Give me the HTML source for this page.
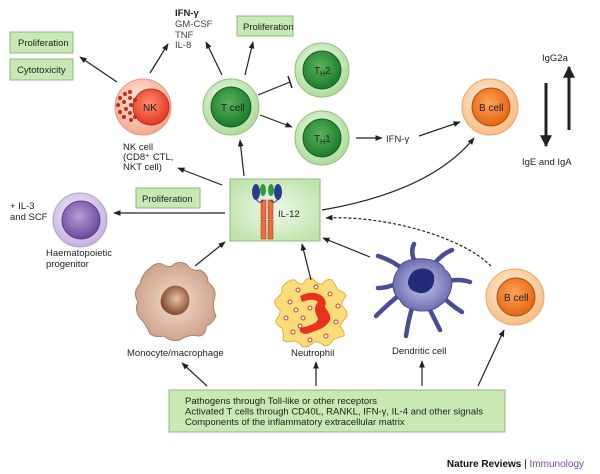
<!DOCTYPE html>
<html><head><meta charset="utf-8"><style>
body{margin:0;background:#fff}
svg{display:block;font-family:"Liberation Sans",sans-serif}
</style></head><body>
<svg width="600" height="474" viewBox="0 0 600 474" xmlns="http://www.w3.org/2000/svg">
<defs>
<marker id="a" viewBox="0 0 10 10" refX="9" refY="5" markerWidth="6" markerHeight="6" orient="auto"><path d="M0,1 L10,5 L0,9 z" fill="#222"/></marker>
<marker id="b" viewBox="0 0 10 10" refX="9" refY="5" markerWidth="4" markerHeight="4" orient="auto"><path d="M0,0 L10,5 L0,10 z" fill="#222"/></marker>
<radialGradient id="gl" cx="0.45" cy="0.4" r="0.6"><stop offset="0" stop-color="#f4fbef"/><stop offset="1" stop-color="#aedb9a"/></radialGradient>
<radialGradient id="gd" cx="0.45" cy="0.4" r="0.6"><stop offset="0" stop-color="#5cb45a"/><stop offset="1" stop-color="#1a7a2c"/></radialGradient>
<radialGradient id="rl" cx="0.45" cy="0.4" r="0.6"><stop offset="0" stop-color="#fff0ea"/><stop offset="1" stop-color="#f5a68e"/></radialGradient>
<radialGradient id="rd" cx="0.45" cy="0.4" r="0.6"><stop offset="0" stop-color="#ff8a70"/><stop offset="1" stop-color="#e23a20"/></radialGradient>
<radialGradient id="ol" cx="0.45" cy="0.4" r="0.6"><stop offset="0" stop-color="#fff3e4"/><stop offset="1" stop-color="#f7bd82"/></radialGradient>
<radialGradient id="od" cx="0.45" cy="0.4" r="0.6"><stop offset="0" stop-color="#ffa45a"/><stop offset="1" stop-color="#e4650f"/></radialGradient>
<radialGradient id="pl" cx="0.45" cy="0.4" r="0.6"><stop offset="0" stop-color="#f6f0fb"/><stop offset="1" stop-color="#c6b1dc"/></radialGradient>
<radialGradient id="pd" cx="0.45" cy="0.4" r="0.6"><stop offset="0" stop-color="#b89ad6"/><stop offset="1" stop-color="#6c4a9c"/></radialGradient>
<radialGradient id="box" cx="0.5" cy="0.5" r="0.6"><stop offset="0" stop-color="#f0f9ea"/><stop offset="1" stop-color="#bfe3ac"/></radialGradient>
<radialGradient id="mo" cx="0.5" cy="0.5" r="0.6"><stop offset="0" stop-color="#f3ddd0"/><stop offset="1" stop-color="#c99a80"/></radialGradient>
<radialGradient id="mn" cx="0.55" cy="0.45" r="0.6"><stop offset="0" stop-color="#e8c2a8"/><stop offset="1" stop-color="#7a3e20"/></radialGradient>
<radialGradient id="dc" cx="0.5" cy="0.5" r="0.6"><stop offset="0" stop-color="#c7c8e8"/><stop offset="1" stop-color="#5c5ea6"/></radialGradient>
</defs>
<g font-size="9.5" fill="#222">
<g fill="#c8e8b4" stroke="#8fb87e" stroke-width="1">
<rect x="10" y="32" width="63" height="21"/><rect x="10" y="59" width="63" height="21"/>
<rect x="237" y="16" width="56" height="20"/><rect x="136" y="188" width="64" height="20"/>
</g>
<text x="18" y="46">Proliferation</text><text x="17" y="73">Cytotoxicity</text>
<text x="243" y="30">Proliferation</text><text x="142" y="202">Proliferation</text>
<rect x="230" y="179" width="90" height="62" fill="url(#box)" stroke="#8fb87e"/>
<rect x="169" y="390" width="336" height="42" fill="#c8e8b4" stroke="#8fb87e"/>
<text x="185" y="404">Pathogens through Toll-like or other receptors</text>
<text x="185" y="414.5">Activated T cells through CD40L, RANKL, IFN-γ, IL-4 and other signals</text>
<text x="185" y="425">Components of the inflammatory extracellular matrix</text>
<g stroke="#8a3a1a" stroke-width="0.5" fill="#f26a3c">
<rect x="261" y="200" width="5" height="19"/><rect x="261" y="220" width="5" height="19"/>
<rect x="268" y="200" width="5" height="19"/><rect x="268" y="220" width="5" height="19"/>
</g>
<path d="M256,199 Q260,205 263,200 M278,199 Q274,205 271,200" stroke="#2a3a8c" fill="none"/>
<ellipse cx="256" cy="192" rx="4" ry="8" fill="#2a3a8c"/><ellipse cx="278" cy="192" rx="4" ry="8" fill="#2a3a8c"/>
<ellipse cx="263" cy="190" rx="3" ry="6" fill="#2e9a44"/><ellipse cx="271" cy="190" rx="3" ry="6" fill="#2e9a44"/>
<text x="278" y="217">IL-12</text>
<circle cx="143" cy="107" r="28" fill="url(#rl)" stroke="#e59a86"/>
<circle cx="151" cy="107" r="18" fill="url(#rd)" stroke="#b8301a"/>
<g fill="#cc2a14"><circle cx="120" cy="98" r="2"/><circle cx="125" cy="94" r="2"/><circle cx="118" cy="105" r="2"/><circle cx="124" cy="102" r="2"/><circle cx="130" cy="98" r="2"/><circle cx="120" cy="112" r="2"/><circle cx="126" cy="109" r="2"/><circle cx="131" cy="105" r="2"/><circle cx="124" cy="117" r="2"/><circle cx="130" cy="113" r="2"/><circle cx="130" cy="92" r="2"/><circle cx="131" cy="120" r="2"/><circle cx="135" cy="117" r="2"/><circle cx="135" cy="100" r="2"/></g>
<text x="143" y="111" font-size="10">NK</text>
<text x="123" y="150">NK cell</text><text x="123" y="160">(CD8⁺ CTL,</text><text x="123" y="170">NKT cell)</text>
<circle cx="231" cy="107" r="28" fill="url(#gl)" stroke="#8fc27c"/>
<circle cx="231" cy="107" r="20" fill="url(#gd)" stroke="#136022"/>
<text x="221" y="111" font-size="10">T cell</text>
<circle cx="322" cy="70" r="27" fill="url(#gl)" stroke="#8fc27c"/>
<circle cx="322" cy="70" r="19" fill="url(#gd)" stroke="#136022"/>
<text x="314" y="74" font-size="10">T<tspan font-size="7" dy="2">H</tspan><tspan dy="-2">2</tspan></text>
<circle cx="322" cy="138" r="27" fill="url(#gl)" stroke="#8fc27c"/>
<circle cx="322" cy="138" r="19" fill="url(#gd)" stroke="#136022"/>
<text x="314" y="142" font-size="10">T<tspan font-size="7" dy="2">H</tspan><tspan dy="-2">1</tspan></text>
<circle cx="490" cy="107" r="28" fill="url(#ol)" stroke="#e8a870"/>
<circle cx="491" cy="107" r="19" fill="url(#od)" stroke="#b04c0c"/>
<text x="479" y="111" font-size="10">B cell</text>
<ellipse cx="515" cy="297" rx="29" ry="28" fill="url(#ol)" stroke="#e8a870"/>
<circle cx="516" cy="297" r="19" fill="url(#od)" stroke="#b04c0c"/>
<text x="504" y="301" font-size="10">B cell</text>
<circle cx="80" cy="220" r="27" fill="url(#pl)" stroke="#b6a2cc"/>
<circle cx="81" cy="220" r="19" fill="url(#pd)" stroke="#5a3a88"/>
<text x="10" y="209">+ IL-3</text><text x="10" y="220">and SCF</text>
<text x="46" y="256">Haematopoietic</text><text x="46" y="267">progenitor</text>
<path d="M150,268 Q156,262 162,264 Q168,268 172,266 Q178,260 186,264 Q192,272 200,270 Q208,274 208,282 Q218,290 214,300 Q212,308 216,316 Q212,324 206,326 Q206,336 198,336 Q188,334 180,340 Q170,342 164,336 Q156,338 150,334 Q146,324 140,318 Q134,310 138,302 Q132,292 140,284 Q142,274 150,268Z" fill="url(#mo)" stroke="#b08068"/>
<path d="M164,292 C170,282 186,284 189,296 C192,310 180,318 170,314 C160,310 158,300 164,292Z" fill="url(#mn)"/>
<text x="127" y="356">Monocyte/macrophage</text>
<path d="M285,284 Q290,279 295,280 Q299,285 303,284 Q307,277 312,278 Q318,285 322,284 Q327,278 332,280 Q336,286 338,290 Q345,292 346,296 Q341,302 342,306 Q348,311 347,316 Q342,322 340,326 Q345,332 344,336 Q338,337 333,340 Q330,346 325,346 Q319,341 314,342 Q308,348 303,347 Q298,341 293,341 Q286,343 283,340 Q284,332 282,328 Q275,324 276,320 Q281,314 280,310 Q273,304 275,300 Q280,296 282,292 Q281,287 285,284 Z" fill="#fbdc7a" stroke="#e0b040"/>
<path d="M300,296 C310,290 325,292 326,304 C322,308 332,312 330,320 C326,328 318,330 312,332 C305,336 298,333 300,328 C308,326 318,324 318,318 C314,312 314,306 318,302 C314,298 306,300 302,302 Z" fill="#e8321e"/>
<g fill="#fff" stroke="#d83a1e" stroke-width="1"><circle cx="290" cy="302" r="2"/><circle cx="298" cy="290" r="2"/><circle cx="316" cy="287" r="2"/><circle cx="330" cy="294" r="2"/><circle cx="338" cy="306" r="2"/><circle cx="336" cy="322" r="2"/><circle cx="326" cy="336" r="2"/><circle cx="310" cy="340" r="2"/><circle cx="293" cy="332" r="2"/><circle cx="286" cy="318" r="2"/><circle cx="303" cy="318" r="2"/><circle cx="310" cy="308" r="2"/><circle cx="296" cy="310" r="2"/><circle cx="300" cy="326" r="2"/></g>
<text x="291" y="356">Neutrophil</text>
<g stroke="#4a4c98" stroke-linecap="round" fill="none">
<g stroke-width="4.5">
<path d="M404,270 Q392,260 378,256"/><path d="M415,262 Q410,252 414,244"/>
<path d="M434,264 Q442,254 452,250"/><path d="M444,282 Q458,278 470,282"/>
<path d="M442,296 Q452,306 462,312"/><path d="M428,306 Q434,318 440,330"/>
<path d="M412,308 Q408,322 406,336"/><path d="M398,296 Q386,306 376,316"/>
<path d="M396,284 Q386,288 378,288"/>
</g>
<path d="M398,270 C400,255 440,255 445,270 C458,278 450,300 440,305 C430,315 405,312 400,300 C390,292 392,278 398,270Z" fill="url(#dc)" stroke-width="1"/>
</g>
<path d="M410,276 C414,266 432,266 434,276 C436,290 424,296 416,292 C408,290 406,282 410,276Z" fill="#232a78"/>
<text x="392" y="354">Dendritic cell</text>
<text x="175" y="16" font-weight="bold">IFN-γ</text>
<text x="175" y="27" fill="#444">GM-CSF</text><text x="175" y="38" fill="#444">TNF</text><text x="175" y="48" fill="#444">IL-8</text>
<text x="386" y="142">IFN-γ</text>
<text x="542" y="61">IgG2a</text>
<text x="522" y="165">IgE and IgA</text>
</g>
<g stroke="#222" stroke-width="1.2" fill="none" marker-end="url(#a)">
<line x1="117" y1="82" x2="80" y2="57"/>
<line x1="150" y1="73" x2="168" y2="44"/>
<line x1="222" y1="75" x2="206" y2="42"/>
<line x1="245" y1="75" x2="253" y2="42"/>
<line x1="260" y1="115" x2="292" y2="127"/>
<line x1="244" y1="176" x2="240" y2="140"/>
<line x1="222" y1="185" x2="178" y2="168"/>
<line x1="225" y1="213" x2="114" y2="213"/>
<line x1="356" y1="138" x2="382" y2="138"/>
<line x1="419" y1="136" x2="460" y2="122"/>
<path d="M322,210 C380,200 440,180 474,138"/>
<line x1="195" y1="266" x2="225" y2="242"/>
<line x1="311" y1="280" x2="302" y2="244"/>
<line x1="370" y1="257" x2="323" y2="238"/>
<line x1="207" y1="386" x2="182" y2="363"/>
<line x1="316" y1="386" x2="316" y2="362"/>
<line x1="422" y1="386" x2="422" y2="361"/>
<line x1="478" y1="386" x2="504" y2="330"/>
<path d="M491,266 C460,235 380,215 326,218" stroke-dasharray="3,2"/>
</g>
<line x1="258" y1="95" x2="290" y2="82" stroke="#222" stroke-width="1.2"/>
<line x1="288" y1="76" x2="292" y2="88" stroke="#222" stroke-width="1.5"/>
<g stroke="#222" stroke-width="3" marker-end="url(#b)">
<line x1="546" y1="83" x2="546" y2="146"/>
<line x1="569" y1="130" x2="569" y2="67"/>
</g>
<text x="584" y="467" text-anchor="end" font-family="Liberation Sans, sans-serif" font-size="10" font-weight="bold" fill="#111">Nature Reviews <tspan font-weight="normal">|</tspan> <tspan fill="#7a4aa8" font-weight="normal">Immunology</tspan></text>
</svg>
</body></html>
